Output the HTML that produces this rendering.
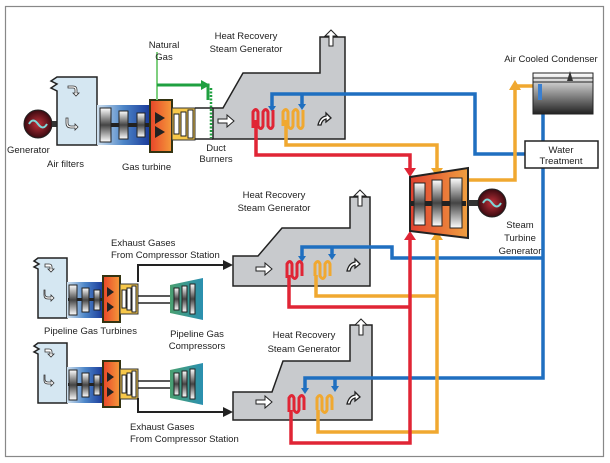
<!DOCTYPE html>
<html><head><meta charset="utf-8"><style>
html,body{margin:0;padding:0;background:#fff;}
svg{display:block;}
text{font-family:"Liberation Sans",sans-serif;font-size:9.5px;fill:#222;}
</style></head><body>
<svg width="610" height="463" viewBox="0 0 610 463" xmlns="http://www.w3.org/2000/svg">
<defs>
<linearGradient id="comp" x1="0" x2="1" y1="0" y2="0"><stop offset="0" stop-color="#cfe0ee"/><stop offset="0.5" stop-color="#4d86c8"/><stop offset="1" stop-color="#1a3a9a"/></linearGradient>
<linearGradient id="comb" x1="0" x2="1"><stop offset="0" stop-color="#e8452a"/><stop offset="1" stop-color="#f59a3a"/></linearGradient>
<linearGradient id="blade" x1="0" y1="0" x2="0" y2="1"><stop offset="0" stop-color="#fff"/><stop offset="0.5" stop-color="#444"/><stop offset="1" stop-color="#fff"/></linearGradient>
<linearGradient id="stg" x1="0" x2="1"><stop offset="0" stop-color="#e04030"/><stop offset="1" stop-color="#f0a040"/></linearGradient>
<linearGradient id="cond" x1="0" y1="0" x2="0" y2="1"><stop offset="0" stop-color="#fff"/><stop offset="1" stop-color="#222"/></linearGradient>
<linearGradient id="pgc" x1="0" x2="1"><stop offset="0" stop-color="#4aa070"/><stop offset="1" stop-color="#2a8fb0"/></linearGradient>
<radialGradient id="gen"><stop offset="0" stop-color="#c0303a"/><stop offset="1" stop-color="#3a0a10"/></radialGradient>
</defs>
<rect x="5.5" y="6.5" width="598" height="450" fill="none" stroke="#888" stroke-width="1.2"/>

<!-- HRSG shapes -->
<polygon points="213,108 223,108 243,73 320,73 320,37 345,37 345,139 213,139" fill="#c8cacd" stroke="#222" stroke-width="1.5"/>
<polygon points="233,256 258,256 282,228 350,228 350,197 370,197 370,286 233,286" fill="#c8cacd" stroke="#222" stroke-width="1.5"/>
<polygon points="233,392 272,392 283,361 350,361 350,325 372,325 372,420 233,420" fill="#c8cacd" stroke="#222" stroke-width="1.5"/>
<!-- chimney arrows -->
<g fill="#fff" stroke="#222" stroke-width="1">
<path d="M329,46 v-10 h-4 l6,-6 l6,6 h-4 v10z"/>
<path d="M358,206 v-10 h-4 l6,-6 l6,6 h-4 v10z"/>
<path d="M359,335 v-10 h-4 l6,-6 l6,6 h-4 v10z"/>
<path d="M218,119 h9 v-4 l7,6 l-7,6 v-4 h-9z"/>
<path d="M256,267 h9 v-4 l7,6 l-7,6 v-4 h-9z"/>
<path d="M256,400 h9 v-4 l7,6 l-7,6 v-4 h-9z"/>
</g>
<g fill="none" stroke="#222" stroke-width="1.3">
<path d="M318,125 q2,-8 8,-9 l0,-3 l5,5 l-5,4 v-3 q-4,1 -5,6z" fill="#fff"/>
<path d="M347,271 q2,-8 8,-9 l0,-3 l5,5 l-5,4 v-3 q-4,1 -5,6z" fill="#fff"/>
<path d="M347,404 q2,-8 8,-9 l0,-3 l5,5 l-5,4 v-3 q-4,1 -5,6z" fill="#fff"/>
</g>

<!-- pipes: blue -->
<g fill="none" stroke="#1f6fc0" stroke-width="3.5">
<path d="M272,108 V94 H475 V154 H525"/>
<path d="M302,94 V106"/>
<path d="M543,95 V378 H305 V390"/>
<path d="M335,378 V388"/>
<path d="M543,258 H392 V247 H302 V258"/>
<path d="M332,247 V256"/>
</g>
<g fill="#1f6fc0"><path d="M268,106h8l-4,6z"/><path d="M298,104h8l-4,6z"/><path d="M298,256h8l-4,6z"/><path d="M328,254h8l-4,6z"/><path d="M301,388h8l-4,6z"/><path d="M331,386h8l-4,6z"/></g>
<!-- orange -->
<g fill="none" stroke="#f0a830" stroke-width="3.5">
<path d="M286,120 V145 H437 V170"/>
<path d="M468,180 H515 V86 H540"/>
<path d="M316,275 V296 H437"/>
<path d="M318,410 V432 H437 V236"/>
</g>
<g fill="#f0a830"><path d="M431,168h12l-6,9z"/><path d="M509,90h12l-6,-10z"/><path d="M431,240h12l-6,-9z"/></g>
<!-- red -->
<g fill="none" stroke="#e02535" stroke-width="3.5">
<path d="M256,120 V155 H410 V170"/>
<path d="M289,275 V307 H410"/>
<path d="M291,410 V443 H410 V236"/>
</g>
<g fill="#e02535"><path d="M404,168h12l-6,9z"/><path d="M404,240h12l-6,-9z"/></g>

<!-- coils -->
<g fill="none" stroke-width="3">
<path d="M253,128 V112 q3,-5 5,0 v14 q3,5 5,0 v-14 q3,-5 5,0 v14 q3,5 5,0 v-16" stroke="#e02535"/>
<path d="M283,126 V112 q3,-5 5,0 v14 q3,5 5,0 v-14 q3,-5 5,0 v14 q3,5 5,0 v-16" stroke="#f0a830"/>
<path d="M287,278 V264 q3,-5 5,0 v12 q3,5 5,0 v-12 q3,-5 5,0 v12" stroke="#e02535"/>
<path d="M315,276 V264 q3,-5 5,0 v12 q3,5 5,0 v-12 q3,-5 5,0 v12" stroke="#f0a830"/>
<path d="M289,412 V398 q3,-5 5,0 v12 q3,5 5,0 v-12 q3,-5 5,0 v12" stroke="#e02535"/>
<path d="M317,410 V398 q3,-5 5,0 v12 q3,5 5,0 v-12 q3,-5 5,0 v12" stroke="#f0a830"/>
</g>

<!-- main gas turbine -->
<circle cx="38" cy="124" r="14" fill="url(#gen)" stroke="#222"/>
<path d="M29,124 q4,-7 9,0 q5,7 9,0" stroke="#7fd8d8" stroke-width="2" fill="none"/>
<rect x="52" y="121" width="5" height="6" fill="#333"/>
<path d="M97,77 H57 l-6,4 l6,3 l-6,4 l6,3 V145 H97z" fill="#d5e7f2" stroke="#222" stroke-width="1.5"/>
<path d="M68,86 h5 q4,0 4,4 v3 l2,0 l-3,3 l-3,-3 h2 v-3 q0,-2 -2,-2 h-5z M68,118 v5 q0,3 3,3 h4 v-2 l3,3 l-3,3 v-2 h-4 q-5,0 -5,-5 v-5z" fill="#fff" stroke="#333" stroke-width="0.8"/>
<rect x="97" y="105" width="53" height="40" fill="url(#comp)"/>
<rect x="100" y="123" width="50" height="4" fill="#222"/>
<rect x="100" y="108" width="11" height="34" fill="url(#blade)" stroke="#222"/>
<rect x="119" y="111" width="9" height="28" fill="url(#blade)" stroke="#222"/>
<rect x="137" y="113" width="8" height="24" fill="url(#blade)" stroke="#222"/>
<rect x="150" y="100" width="22" height="52" fill="url(#comb)" stroke="#331" stroke-width="2"/>
<path d="M155,112 l10,6 l-10,6z M155,126 l10,6 l-10,6z" fill="#222"/>
<rect x="172" y="108" width="23" height="32" fill="#f7c84a" stroke="#333"/>
<rect x="174" y="114" width="5" height="20" fill="#fff" stroke="#222"/>
<rect x="181" y="112" width="5" height="24" fill="#fff" stroke="#222"/>
<rect x="188" y="110" width="5" height="28" fill="#fff" stroke="#222"/>
<path d="M195,108 H213 M195,139 H213" stroke="#222" stroke-width="1.5"/>
<path d="M157,52 V100" stroke="#7fcf7f" stroke-width="2"/>
<path d="M157,85 H208 V100" stroke="#1fa040" stroke-width="3" fill="none"/>
<path d="M201,80 l9,5 l-9,5z" fill="#1fa040"/>
<path d="M211,88 V138" stroke="#1fa040" stroke-width="2.5" stroke-dasharray="2 1.5"/>

<!-- pipeline gas turbines -->
<g id="pgt">
<path d="M67,258 H38 l-4,3 l5,3 l-5,3 l4,2 V318 H67z" fill="#d5e7f2" stroke="#222" stroke-width="1.5"/>
<path d="M45,264 h4 q3,0 3,3 v2 h2 l-3,3 l-3,-3 h2 v-2 h-5z M45,290 v4 q0,3 3,3 h3 v-2 l3,3 l-3,3 v-2 h-3 q-4,0 -4,-4 v-5z" fill="#fff" stroke="#333" stroke-width="0.8"/>
<rect x="67" y="282" width="36" height="36" fill="url(#comp)"/>
<rect x="68" y="298" width="35" height="3" fill="#222"/>
<rect x="69" y="285" width="8" height="30" fill="url(#blade)" stroke="#222"/>
<rect x="82" y="288" width="7" height="24" fill="url(#blade)" stroke="#222"/>
<rect x="94" y="290" width="6" height="20" fill="url(#blade)" stroke="#222"/>
<rect x="103" y="276" width="17" height="46" fill="url(#comb)" stroke="#331" stroke-width="2"/>
<path d="M107,287 l7,5 l-7,5z M107,302 l7,5 l-7,5z" fill="#222"/>
<rect x="120" y="284" width="18" height="30" fill="#f7c84a" stroke="#333"/>
<rect x="122" y="290" width="4" height="18" fill="#fff" stroke="#222"/>
<rect x="127" y="288" width="4" height="22" fill="#fff" stroke="#222"/>
<rect x="132" y="286" width="4" height="26" fill="#fff" stroke="#222"/>
<path d="M138,296 H172 M138,303 H172" stroke="#222" stroke-width="1.5"/>
<path d="M170,285 L203,278 V320 L170,313z" fill="url(#pgc)"/>
<rect x="174" y="288" width="5" height="22" fill="url(#blade)" stroke="#222"/>
<rect x="182" y="286" width="5" height="26" fill="url(#blade)" stroke="#222"/>
<rect x="190" y="284" width="5" height="30" fill="url(#blade)" stroke="#222"/>
</g>
<use href="#pgt" transform="translate(0,85)"/>
<g fill="none" stroke="#222" stroke-width="2">
<path d="M138,282 V265 H225"/>
<path d="M138,398 V412 H225"/>
</g>
<g fill="#222"><path d="M223,260 l10,5 l-10,5z"/><path d="M223,407 l10,5 l-10,5z"/></g>

<!-- steam turbine -->
<path d="M410,177 L468,168 V238 L410,231z" fill="url(#stg)" stroke="#222" stroke-width="2"/>
<rect x="410" y="201" width="56" height="5" fill="#222"/>
<rect x="414" y="183" width="11" height="42" fill="url(#blade)" stroke="#222"/>
<rect x="432" y="180" width="10" height="46" fill="url(#blade)" stroke="#222"/>
<rect x="450" y="178" width="12" height="50" fill="url(#blade)" stroke="#222"/>
<rect x="468" y="200" width="10" height="6" fill="#333"/>
<circle cx="492" cy="203" r="14" fill="url(#gen)" stroke="#222"/>
<path d="M483,203 q4,-7 9,0 q5,7 9,0" stroke="#7fd8d8" stroke-width="2" fill="none"/>

<!-- condenser -->
<rect x="533" y="73" width="60" height="41" fill="url(#cond)" stroke="#222"/>
<path d="M533,78 H593 M533,82 H593" stroke="#222"/>
<path d="M567,81 l3,-10 l3,10z" fill="#333"/>
<rect x="538" y="84" width="4" height="16" fill="#3a7fd0"/>
<!-- water treatment -->
<rect x="525" y="141" width="73" height="27" fill="#fff" stroke="#222" stroke-width="1.5"/>
<text x="561" y="153" text-anchor="middle">Water</text>
<text x="561" y="164" text-anchor="middle">Treatment</text>

<!-- labels -->
<text x="164" y="48" text-anchor="middle">Natural</text>
<text x="164" y="60" text-anchor="middle">Gas</text>
<text x="246" y="39" text-anchor="middle">Heat Recovery</text>
<text x="246" y="52" text-anchor="middle">Steam Generator</text>
<text x="7" y="153">Generator</text>
<text x="47" y="167">Air filters</text>
<text x="122" y="170">Gas turbine</text>
<text x="216" y="151" text-anchor="middle">Duct</text>
<text x="216" y="162" text-anchor="middle">Burners</text>
<text x="551" y="62" text-anchor="middle">Air Cooled Condenser</text>
<text x="520" y="228" text-anchor="middle">Steam</text>
<text x="520" y="241" text-anchor="middle">Turbine</text>
<text x="520" y="254" text-anchor="middle">Generator</text>
<text x="274" y="198" text-anchor="middle">Heat Recovery</text>
<text x="274" y="211" text-anchor="middle">Steam Generator</text>
<text x="111" y="246">Exhaust Gases</text>
<text x="111" y="258">From Compressor Station</text>
<text x="44" y="334">Pipeline Gas Turbines</text>
<text x="197" y="337" text-anchor="middle">Pipeline Gas</text>
<text x="197" y="349" text-anchor="middle">Compressors</text>
<text x="304" y="338" text-anchor="middle">Heat Recovery</text>
<text x="304" y="352" text-anchor="middle">Steam Generator</text>
<text x="130" y="430">Exhaust Gases</text>
<text x="130" y="442">From Compressor Station</text>
</svg>
</body></html>
